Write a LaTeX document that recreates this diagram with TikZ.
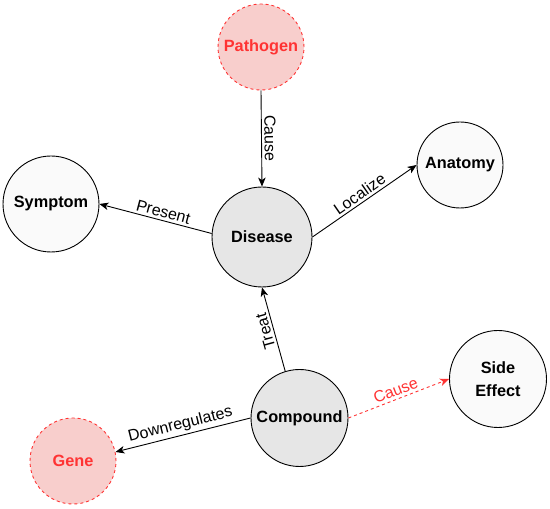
\documentclass[tikz,border=0pt]{standalone}
\usepackage{fontspec}
\setmainfont{Liberation Sans}
\usetikzlibrary{arrows.meta}
\definecolor{pinkfill}{HTML}{F8CECC}
\definecolor{redline}{HTML}{FF3333}
\definecolor{grayfill}{HTML}{E6E6E6}
\definecolor{whitefill}{HTML}{FAFAFA}
\tikzset{
  ent/.style={circle, draw=black, line width=0.9pt, fill=whitefill, inner sep=0pt,
    font=\fontsize{16.3}{23.5}\selectfont\bfseries, align=center},
  core/.style={ent, fill=grayfill},
  ext/.style={ent, draw=redline, dashed, fill=pinkfill, text=redline},
  rel/.style={line width=0.9pt, -{Stealth[length=9pt,width=7.5pt,inset=2.5pt]}},
  redrel/.style={rel, draw=redline, dashed},
  lbl/.style={font=\fontsize{16}{19}\selectfont, inner sep=2.5pt}
}
\begin{document}
\begin{tikzpicture}[x=1pt,y=1pt]
\useasboundingbox (0,0) rectangle (550,509);
\node[ext, minimum size=86pt] (pathogen) at (261,462) {Pathogen};
\node[ent, minimum size=96pt] (symptom) at (51,305) {Symptom};
\node[core, minimum size=100pt] (disease) at (262,272) {Disease};
\node[ent, minimum size=86pt] (anatomy) at (460,344) {Anatomy};
\node[ent, minimum size=97pt] (side) at (498,130) {Side\\Effect};
\node[core, minimum size=97pt] (compound) at (299.5,91) {Compound};
\node[ext, minimum size=86pt] (gene) at (73,48) {Gene};

\draw[rel] (pathogen.south) -- node[lbl, sloped, allow upside down, above] {Cause} (disease.north);
\draw[rel] (disease.176) -- node[lbl, sloped, above, pos=0.45] {Present} (symptom.east);
\draw[rel] (disease.east) -- node[lbl, sloped, above] {Localize} (anatomy.west);
\draw[rel] (compound.107) -- node[lbl, sloped, allow upside down, above] {Treat} (disease.south);
\draw[rel] (compound.west) -- node[lbl, sloped, above] {Downregulates} (gene.12);
\draw[redrel] (compound.east) -- node[lbl, sloped, above, text=redline] {Cause} (side.west);
\end{tikzpicture}
\end{document}
